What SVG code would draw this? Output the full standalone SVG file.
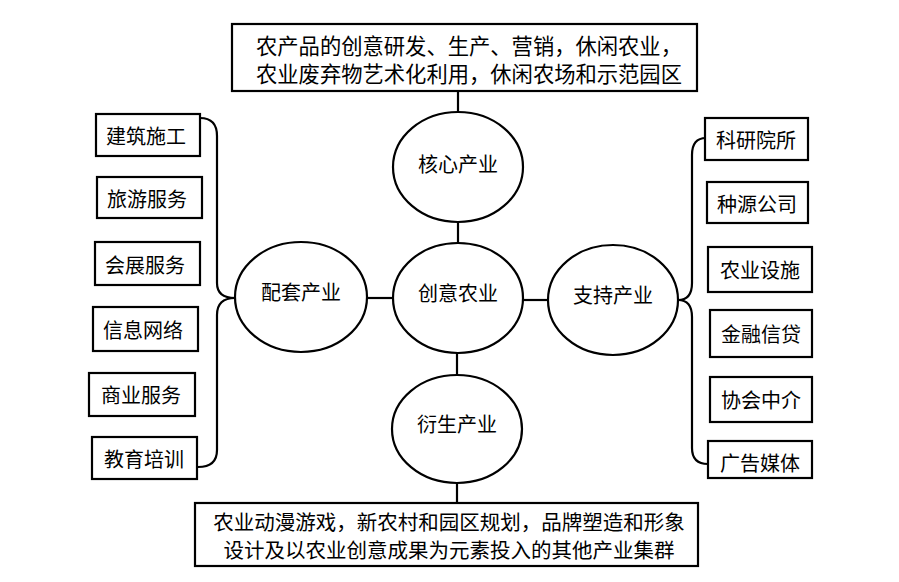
<svg xmlns="http://www.w3.org/2000/svg" width="899" height="582" viewBox="0 0 899 582">
<style>
.box{fill:#fff;stroke:#000;stroke-width:2.2}
.el{fill:#fff;stroke:#000;stroke-width:2.2}
.ln{fill:none;stroke:#000;stroke-width:2.2}
text{font-family:"Noto Sans CJK SC","Noto Sans CJK JP",sans-serif;fill:#000;text-anchor:middle;dominant-baseline:central}
.t{font-size:20.5px}
.tt{font-size:21.3px}
.c{font-size:20px}
</style>
<rect width="899" height="582" fill="#fff"/>
<g id="connectors">
<line class="ln" x1="458" y1="91" x2="458" y2="113"/>
<line class="ln" x1="458" y1="222" x2="458" y2="243"/>
<line class="ln" x1="457" y1="353" x2="457" y2="375"/>
<line class="ln" x1="457" y1="483" x2="457" y2="503"/>
<line class="ln" x1="368" y1="298" x2="393" y2="298"/>
<line class="ln" x1="523" y1="300" x2="548" y2="300"/>
<path class="ln" d="M200,118 Q217,118 217,136 L217,283 Q217,298 235,298"/>
<path class="ln" d="M235,298 Q217,298 217,315 L217,450 Q217,467 198,467"/>
<path class="ln" d="M706,138 Q692,138 692,155 L692,283 Q692,300 678,300"/>
<path class="ln" d="M678,300 Q692,300 692,317 L692,448 Q692,464 708,464"/>
</g>
<g id="top">
<rect class="box" x="232" y="24" width="465" height="67"/>
<text class="tt" x="469" y="44">农产品的创意研发、生产、营销，休闲农业，</text>
<text class="tt" x="469" y="72">农业废弃物艺术化利用，休闲农场和示范园区</text>
</g>
<g id="bottom">
<rect class="box" x="195" y="503" width="503" height="63"/>
<text class="t" x="449" y="521">农业动漫游戏，新农村和园区规划，品牌塑造和形象</text>
<text class="t" x="449" y="549">设计及以农业创意成果为元素投入的其他产业集群</text>
</g>
<g id="core"><ellipse class="el" cx="458" cy="167" rx="65" ry="55"/><text class="c" x="458" y="163">核心产业</text></g>
<g id="center"><ellipse class="el" cx="458" cy="298" rx="65" ry="55"/><text class="c" x="458" y="292">创意农业</text></g>
<g id="derived"><ellipse class="el" cx="457" cy="429" rx="65" ry="54"/><text class="c" x="457" y="423">衍生产业</text></g>
<g id="support"><ellipse class="el" cx="613" cy="300" rx="65" ry="55"/><text class="c" x="613" y="294">支持产业</text></g>
<g id="matching"><ellipse class="el" cx="301" cy="297" rx="66" ry="55"/><text class="c" x="301" y="291">配套产业</text></g>
<g id="l1"><rect class="box" x="96" y="114" width="104" height="42"/><text class="c" x="146" y="135">建筑施工</text></g>
<g id="l2"><rect class="box" x="97" y="177" width="105" height="41"/><text class="c" x="147" y="198">旅游服务</text></g>
<g id="l3"><rect class="box" x="95" y="242" width="105" height="43"/><text class="c" x="145" y="264">会展服务</text></g>
<g id="l4"><rect class="box" x="93" y="307" width="105" height="44"/><text class="c" x="143" y="329">信息网络</text></g>
<g id="l5"><rect class="box" x="89" y="373" width="106" height="43"/><text class="c" x="141" y="394">商业服务</text></g>
<g id="l6"><rect class="box" x="92" y="437" width="105" height="42"/><text class="c" x="144" y="458">教育培训</text></g>
<g id="r1"><rect class="box" x="705" y="118" width="103" height="42"/><text class="c" x="756" y="139">科研院所</text></g>
<g id="r2"><rect class="box" x="707" y="182" width="101" height="41"/><text class="c" x="757" y="203">种源公司</text></g>
<g id="r3"><rect class="box" x="708" y="247" width="104" height="45"/><text class="c" x="760" y="269">农业设施</text></g>
<g id="r4"><rect class="box" x="710" y="310" width="102" height="47"/><text class="c" x="761" y="333">金融信贷</text></g>
<g id="r5"><rect class="box" x="710" y="377" width="102" height="45"/><text class="c" x="761" y="399">协会中介</text></g>
<g id="r6"><rect class="box" x="708" y="441" width="104" height="37"/><text class="c" x="760" y="462">广告媒体</text></g>
</svg>
